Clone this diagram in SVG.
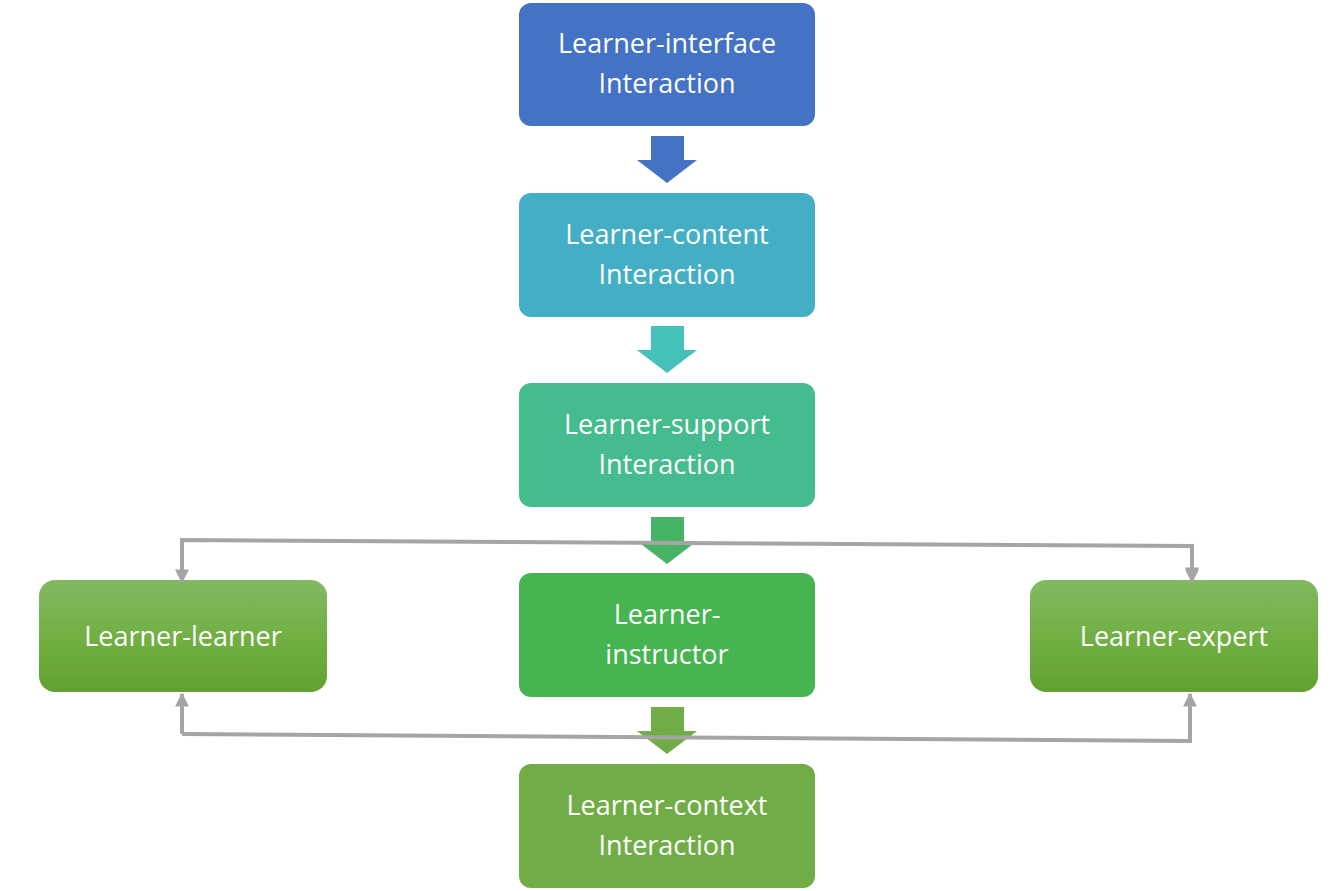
<svg xmlns="http://www.w3.org/2000/svg" width="1334" height="891" viewBox="0 0 1334 891">
<style>
text{font-family:"Open Sans","Noto Sans",sans-serif;font-size:27px;fill:#fff;text-anchor:middle}
.c{fill:none;stroke:#A5A5A5;stroke-width:4}
</style>
<defs>
<linearGradient id="g" x1="0" y1="0" x2="0" y2="1"><stop offset="0" stop-color="#82B962"/><stop offset="0.5" stop-color="#72B044"/><stop offset="1" stop-color="#61A130"/></linearGradient>
<marker id="ah" viewBox="0 0 10 10" refX="9" refY="5" markerWidth="3.5" markerHeight="3.5" orient="auto" markerUnits="strokeWidth"><path d="M0,0L10,5L0,10Z" fill="#A5A5A5"/></marker>
</defs>
<rect width="1334" height="891" fill="#fff"/>
<g id="n1"><rect x="519" y="3" width="296" height="123" rx="12" fill="#4472C4"/><text x="667" y="53">Learner-interface</text><text x="667" y="93">Interaction</text></g>
<g id="n2"><rect x="519" y="193" width="296" height="124" rx="12" fill="#44AFC4"/><text x="667" y="244">Learner-content</text><text x="667" y="284">Interaction</text></g>
<g id="n3"><rect x="519" y="383" width="296" height="124" rx="12" fill="#45BC8D"/><text x="667" y="434">Learner-support</text><text x="667" y="474">Interaction</text></g>
<g id="n4"><rect x="519" y="573" width="296" height="124" rx="12" fill="#46B450"/><text x="667" y="624">Learner-</text><text x="667" y="664">instructor</text></g>
<g id="n5"><rect x="519" y="764" width="296" height="124" rx="12" fill="#70AD47"/><text x="667" y="815">Learner-context</text><text x="667" y="855">Interaction</text></g>
<g id="n6"><rect x="39" y="580" width="288" height="112" rx="16" fill="url(#g)"/><text x="183" y="646">Learner-learner</text></g>
<g id="n7"><rect x="1030" y="580" width="288" height="112" rx="16" fill="url(#g)"/><text x="1174" y="646">Learner-expert</text></g>
<g id="connectors">
<path d="M651,136H684V160H697L667,183L637,160H651Z" fill="#4472C4"/>
<path d="M651,326H684V350H697L667,373L637,350H651Z" fill="#44C1B9"/>
<path d="M651,517H684V541H697L667,564L637,541H651Z" fill="#46B464"/>
<path d="M651,707H684V731H697L667,754L637,731H651Z" fill="#70AD47"/>
<path class="c" d="M182,580V540L1192,546V580" marker-end="url(#ah)"/>
<path class="c" d="M182,582V540" stroke="none"/>
<polyline class="c" points="1192,546 1192,582" marker-end="url(#ah)"/>
<polyline class="c" points="182,540 182,582" marker-end="url(#ah)"/>
<polyline class="c" points="182,734 182,694" marker-end="url(#ah)"/>
<polyline class="c" points="182,734 1190,741 1190,694" marker-end="url(#ah)"/>
</g>
</svg>
